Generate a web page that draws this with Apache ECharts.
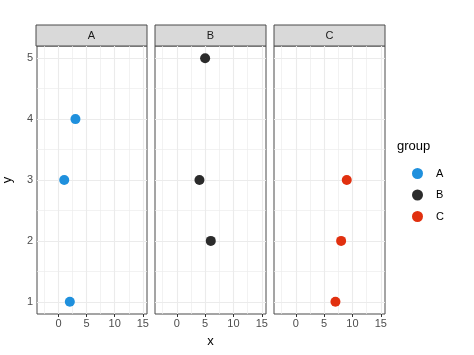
<!DOCTYPE html>
<html>
<head>
<meta charset="utf-8">
<script src="https://cdn.jsdelivr.net/npm/echarts@6/dist/echarts.min.js"></script>
<style>html,body{margin:0;padding:0;background:#fff}#c{width:474px;height:355px}</style>
</head>
<body>
<div id="c"></div>
<script>
const groups = ['A', 'B', 'C'];
const colors = ['#1F90DD', '#2B2B2B', '#E1300F'];
const xA = [2, 1, 3];
const yA = [1, 3, 4];
const xB = [5, 4, 6];
const yB = [5, 3, 2];
const xC = [7, 8, 9];
const yC = [1, 2, 3];
const xTicks = [0, 5, 10, 15];
const xMinor = [-2.5, 2.5, 7.5, 12.5];
const yTicks = [1, 2, 3, 4, 5];
const yMinor = [1.5, 2.5, 3.5, 4.5];
const xRange = [-3.85, 15.75];
const yRange = [0.8, 5.2];

const xs = [xA, xB, xC];
const ys = [yA, yB, yC];
const panelLeft = [36, 155, 274];
const panelW = 111;
const panelTop = 46, panelBottom = 41, stripH = 21;
const font = 'Liberation Sans, Arial, sans-serif';

const chart = echarts.init(document.getElementById('c'), null, {renderer: 'canvas'});

const grids = [], xAxes = [], yAxes = [], series = [], graphics = [];
groups.forEach((g, i) => {
  grids.push({left: panelLeft[i], width: panelW, top: panelTop, bottom: panelBottom, show: true,
    borderColor: '#4A4A4A', borderWidth: 1, backgroundColor: '#fff', containLabel: false});
  xAxes.push({type: 'value', gridIndex: i, min: xRange[0], max: xRange[1],
    name: i === 1 ? 'x' : '', nameLocation: 'middle', nameGap: 21,
    nameTextStyle: {fontFamily: font, fontSize: 13, color: '#000'},
    axisLine: {show: false},
    axisTick: {show: true, length: 3, lineStyle: {color: '#333', width: 1}, customValues: xTicks},
    axisLabel: {show: true, margin: 4, color: '#4D4D4D', fontFamily: font, fontSize: 11, customValues: xTicks},
    splitLine: {show: false}});
  yAxes.push({type: 'value', gridIndex: i, min: yRange[0], max: yRange[1],
    name: i === 0 ? 'y' : '', nameLocation: 'middle', nameGap: 23,
    nameTextStyle: {fontFamily: font, fontSize: 13, color: '#000'},
    axisLine: {show: false},
    axisTick: {show: i === 0, length: 3, lineStyle: {color: '#333', width: 1}, customValues: yTicks},
    axisLabel: {show: i === 0, margin: 4, color: '#4D4D4D', fontFamily: font, fontSize: 11, customValues: yTicks},
    splitLine: {show: false}});
  const ml = [];
  xMinor.forEach(v => ml.push({xAxis: v, lineStyle: {color: '#EDEDED', width: 0.7, type: 'solid'}}));
  yMinor.forEach(v => ml.push({yAxis: v, lineStyle: {color: '#EDEDED', width: 0.7, type: 'solid'}}));
  xTicks.forEach(v => ml.push({xAxis: v, lineStyle: {color: '#EBEBEB', width: 1.1, type: 'solid'}}));
  yTicks.forEach(v => ml.push({yAxis: v, lineStyle: {color: '#EBEBEB', width: 1.1, type: 'solid'}}));
  series.push({type: 'line', xAxisIndex: i, yAxisIndex: i, data: [], silent: true,
    markLine: {silent: true, symbol: 'none', label: {show: false}, animation: false, data: ml}});
  series.push({name: g, type: 'scatter', xAxisIndex: i, yAxisIndex: i,
    symbol: 'circle', symbolSize: 10, itemStyle: {color: colors[i], opacity: 1},
    data: xs[i].map((x, k) => [x, ys[i][k]]), z: 5});
  graphics.push({type: 'rect', shape: {x: panelLeft[i], y: panelTop - stripH, width: panelW, height: stripH},
    style: {fill: '#D9D9D9', stroke: '#4A4A4A', lineWidth: 1}});
  graphics.push({type: 'text', x: panelLeft[i] + panelW / 2, y: panelTop - stripH / 2,
    style: {text: g, fill: '#1A1A1A', font: '11px ' + font, textAlign: 'center', textVerticalAlign: 'middle'}});
});
graphics.push({type: 'text', x: 397, y: 146,
  style: {text: 'group', fill: '#000', font: '13px ' + font, textAlign: 'left', textVerticalAlign: 'middle'}});

chart.setOption({
  animation: false,
  grid: grids, xAxis: xAxes, yAxis: yAxes, series: series,
  legend: {data: groups, orient: 'vertical', left: 407, top: 163, icon: 'circle',
    itemWidth: 11, itemHeight: 11, itemGap: 10.5,
    textStyle: {fontFamily: font, fontSize: 11, color: '#000', padding: [0, 0, 0, 8]}},
  graphic: graphics
});
</script>
</body>
</html>
